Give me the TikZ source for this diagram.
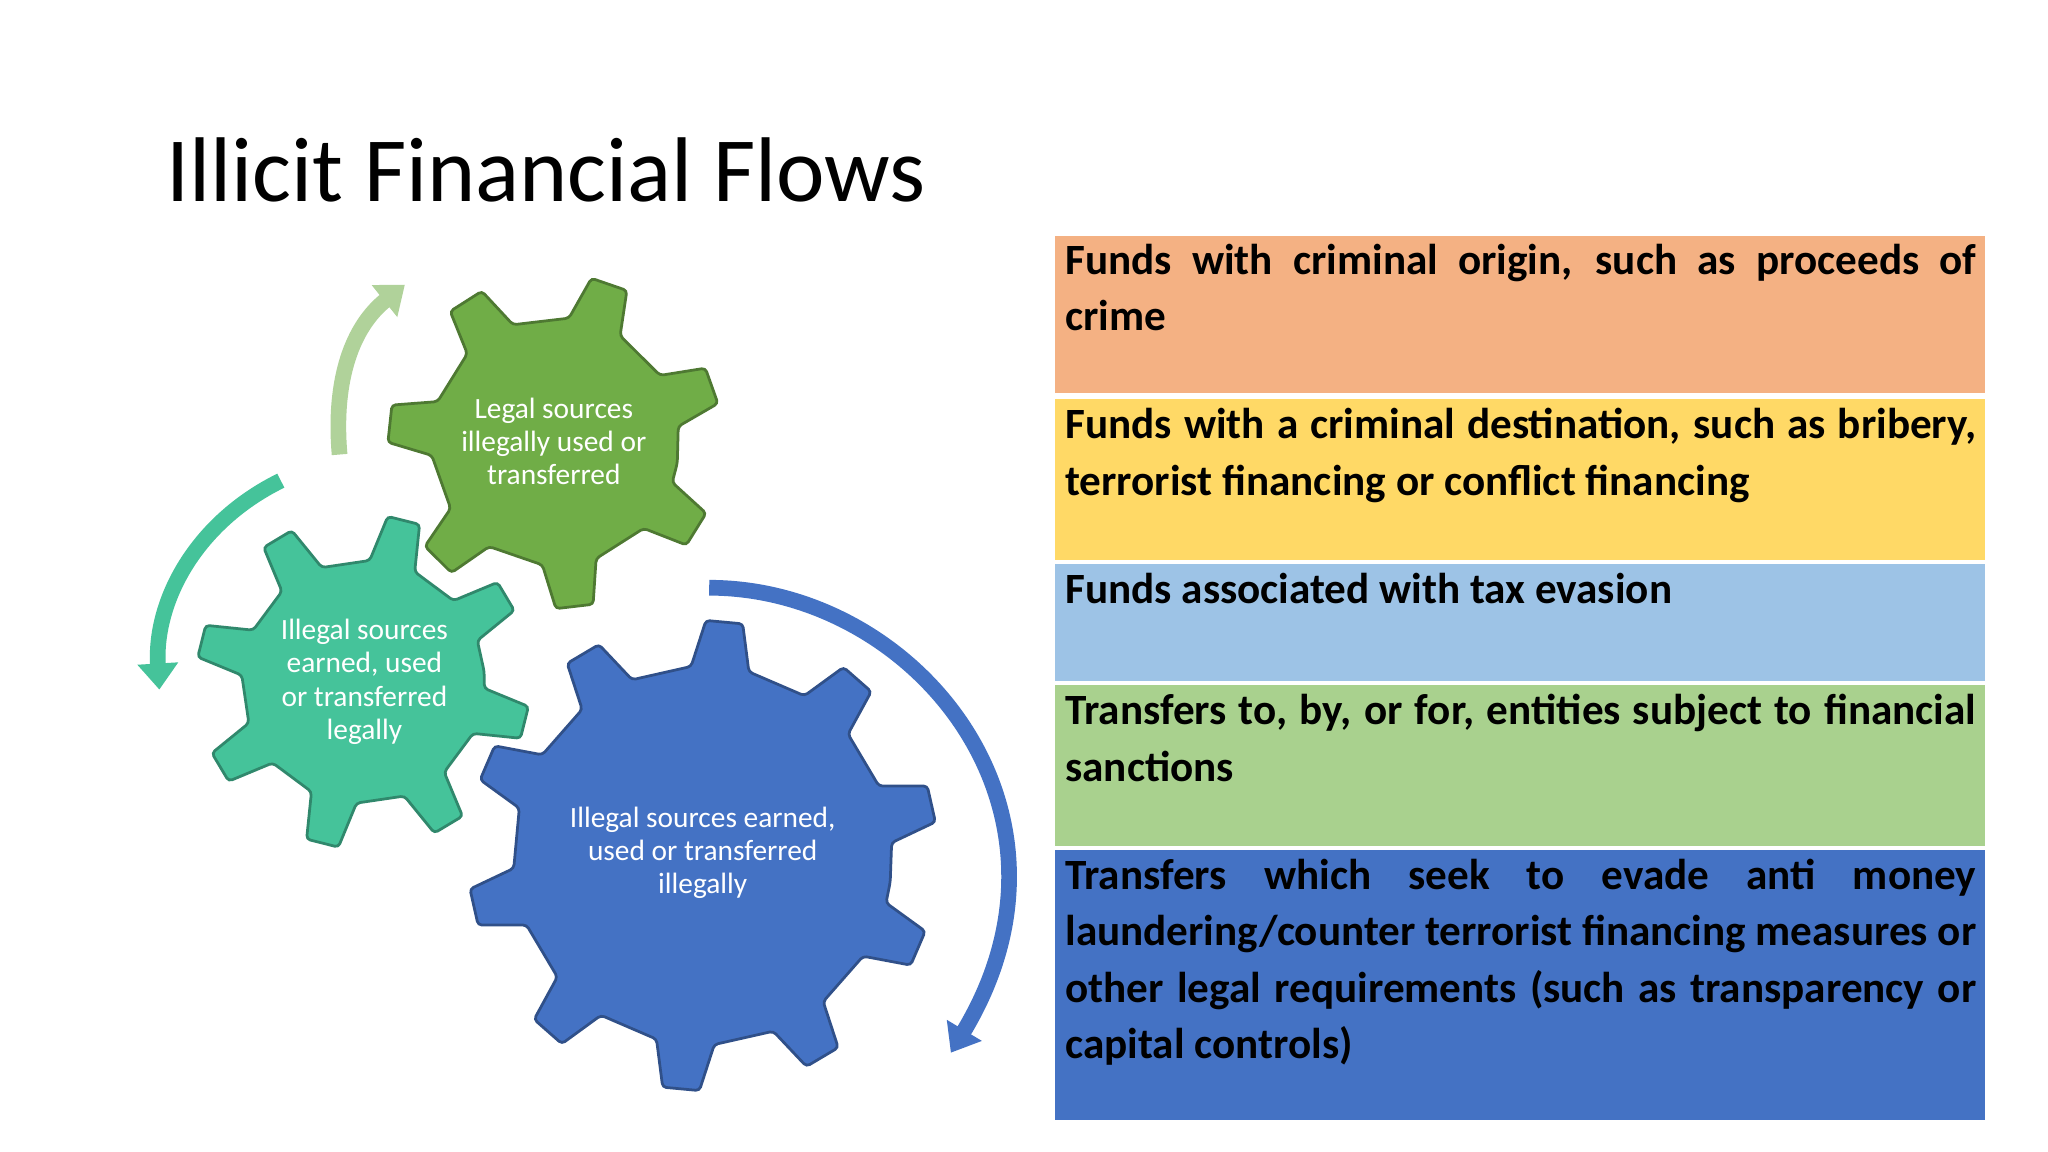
\documentclass[tikz,border=0pt]{standalone}
\usepackage{fontspec}
\setmainfont{Carlito}
\usetikzlibrary{arrows.meta}
\definecolor{gG}{HTML}{70AD47}
\definecolor{gT}{HTML}{45C39A}
\definecolor{gB}{HTML}{4472C4}
\definecolor{bO}{HTML}{F4B183}
\definecolor{bY}{HTML}{FFD966}
\definecolor{bL}{HTML}{9DC3E6}
\definecolor{bGr}{HTML}{A9D18E}
\newcommand\mygear[6]{%
  \pgfmathsetmacro\gs{360/#5}
  \begin{scope}[shift={(#1,#2)}]
  \fill[gearfill,rounded corners=0.8pt] (#6:#3) \foreach \i in {1,...,#5}{
    -- ({#6+\gs*(\i-1)+0.18*\gs}:#3) -- ({#6+\gs*(\i-1)+0.3*\gs}:#4)
    -- ({#6+\gs*(\i-1)+0.55*\gs}:#4) -- ({#6+\gs*(\i-1)+0.67*\gs}:#3)} -- cycle;
  \end{scope}}
\newcommand\nohyph{\hyphenpenalty=10000\relax\exhyphenpenalty=10000\relax}
\tikzset{
 boxbg/.style={anchor=north west,minimum width=7.12cm,inner sep=0pt},
 box/.style={anchor=north west,inner sep=0pt,text width=6.97cm,align=justify,font=\fontsize{9.4}{12.3}\selectfont\bfseries,execute at begin node=\nohyph},
 glab/.style={text=white,align=center,font=\fontsize{6.4}{7.2}\selectfont},
 arr/.style={line width=0.12cm,-{Triangle[width=0.3cm,length=0.2cm]}}
}
\begin{document}
\begin{tikzpicture}[x=0.01cm,y=-0.01cm]
\useasboundingbox[fill=white] (0,0) rectangle (1568,882);
\node[anchor=west,font=\fontsize{20}{24}\selectfont] (title) at (115,130) {Illicit Financial Flows};
% boxes
\node[boxbg,fill=bO,minimum height=1.2cm] (r1) at (807,180) {};
\node[boxbg,fill=bY,minimum height=1.23cm] (r2) at (807,305) {};
\node[boxbg,fill=bL,minimum height=0.9cm] (r3) at (807,431) {};
\node[boxbg,fill=bGr,minimum height=1.23cm] (r4) at (807,524) {};
\node[boxbg,fill=gB,minimum height=2.07cm] (r5) at (807,650) {};
\node[box] (b1) at (815,186) {Funds with criminal origin, such as proceeds of crime};
\node[box] (b2) at (815,312) {Funds with a criminal destination, such as bribery, terrorist financing or conflict financing};
\node[box] (b3) at (815,438) {Funds associated with tax evasion};
\node[box] (b4) at (815,531) {Transfers to, by, or for, entities subject to financial sanctions};
\node[box] (b5) at (815,657) {Transfers which seek to evade anti money laundering/counter terrorist financing measures or other legal requirements (such as transparency or capital controls)};
% gears
\tikzset{gearfill/.style={fill=gG,draw=gG!70!black,line width=0.6pt}}
\mygear{425}{338}{95}{128}{7}{10}
\tikzset{gearfill/.style={fill=gT,draw=gT!70!black,line width=0.6pt}}
\mygear{278}{522}{93}{128}{8}{-5}
\tikzset{gearfill/.style={fill=gB,draw=gB!70!black,line width=0.6pt}}
\mygear{538}{655}{145}{180}{10}{8}
\node[glab] (g1) at (424,338) {Legal sources\\illegally used or\\transferred};
\node[glab] (g2) at (279,522) {Illegal sources\\earned, used\\or transferred\\legally};
\node[glab] (g3) at (538,653) {Illegal sources earned,\\used or transferred\\illegally};
% arrows
\coordinate (a1s) at (260,348); \coordinate (a1e) at (310,218);
\draw[arr,draw=gG!55] (a1s) .. controls (255,290) and (270,250) .. (a1e);
\coordinate (a2s) at (215,368); \coordinate (a2e) at (122,528);
\draw[arr,draw=gT] (a2s) .. controls (150,400) and (118,460) .. (a2e);
\coordinate (a3s) at (543,450); \coordinate (a3e) at (728,806);
\draw[arr,draw=gB] (a3s) .. controls (700,450) and (840,620) .. (a3e);
\end{tikzpicture}
\end{document}
